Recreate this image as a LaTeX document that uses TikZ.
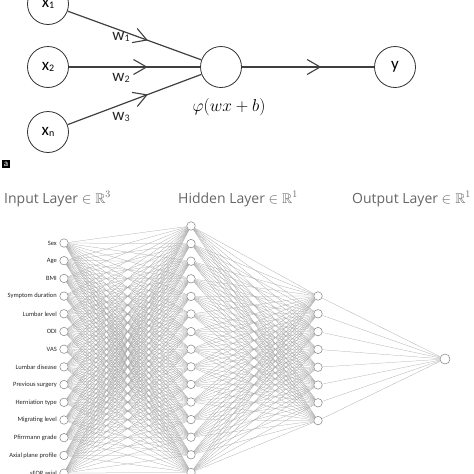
\documentclass[tikz,border=0pt]{standalone}
\usepackage{amsmath,amssymb}
\usepackage{fontspec}
\setsansfont{Carlito}
\newfontfamily\titlefont{Open Sans}
\usetikzlibrary{arrows.meta,positioning,decorations.markings}

\newcommand{\lowidx}[1]{\raisebox{-1.5pt}{\fontsize{10}{10}\selectfont #1}}

\begin{document}
\begin{tikzpicture}[x=1pt,y=-1pt,draw=black!75,>=Straight Barb]
	\tikzstyle{unit}=[circle,draw=black!80,line width=0.8pt,
	minimum size=41pt,
	inner sep=0pt,font=\sffamily\fontsize{17}{17}\selectfont
	]
	\tikzstyle{wire}=[line width=1.2pt,draw=black!75,postaction={decorate},
	decoration={markings,mark=at position 0.6 with {\arrow[line width=1.1pt]{Straight Barb[length=13pt,width=15pt]}}}]
	\tikzstyle{wlabel}=[font=\sffamily\fontsize{17}{17}\selectfont,text=black!85];
	\tikzstyle{title}=[anchor=base west,inner sep=0pt,font=\titlefont\fontsize{14}{14}\selectfont,text=black!60];
	\tikzstyle{cell}=[circle,draw=black!50,fill=white,line width=0.5pt,minimum size=8.5pt,inner sep=0pt];
	\tikzstyle{link}=[draw=black!35,line width=0.25pt];
	\tikzstyle{feat}=[anchor=east,inner sep=0pt,font=\sffamily\fontsize{6.5}{6.5}\selectfont,text=black!85];
\useasboundingbox (0,0) rectangle (474,474);
\clip (0,0) rectangle (474,474);

% single neuron
\node[unit](x1) at (48,4){x\lowidx{1}};
\node[unit](x2) at (48,67){x\lowidx{2}};
\node[unit](xn) at (48,132){x\lowidx{n}};
\node[unit](sum) at (221,67){};
\node[unit](y) at (395,67){y};

\draw[wire] (x1) -- (sum);
\draw[wire] (x2) -- (sum);
\draw[wire] (xn) -- (sum);
\draw[wire] (sum) -- (y);

\node[wlabel](w1) at (121,37){w\lowidx{1}};
\node[wlabel](w2) at (121,78){w\lowidx{2}};
\node[wlabel](w3) at (121,117){w\lowidx{3}};
\node(phi) at (229,107){\fontsize{16}{16}\selectfont $\varphi(wx+b)$};

\node[fill=black,text=white,inner sep=2pt,font=\sffamily\fontsize{9}{9}\selectfont](tag) at (6,164){a};

% network
\node[title](tin) at (4,203){Input Layer $\in\mathbb{R}^3$};
\node[title](thid) at (178,203){Hidden Layer $\in\mathbb{R}^1$};
\node[title](tout) at (352,203){Output Layer $\in\mathbb{R}^1$};

\foreach \i/\txt in {0/Sex,1/Age,2/BMI,3/Symptom duration,4/Lumbar level,5/ODI,6/VAS,
	7/Lumbar disease,8/Previous surgery,9/Herniation type,10/Migrating level,
	11/Pfirrmann grade,12/Axial plane profile,13/sFOR axial}{
	\node[cell](in\i) at (64,243+17.7*\i){};
	\node[feat] at (57,243+17.7*\i){\txt};
}
\foreach \j in {0,...,14}
	\node[cell](h\j) at (191,226+17.6*\j){};
\foreach \k in {0,...,7}
	\node[cell](g\k) at (318,296+17.8*\k){};
\node[cell,minimum size=10pt](out) at (445,359){};

\foreach \i in {0,...,13}
	\foreach \j in {0,...,14}
		\draw[link] (in\i) -- (h\j);
\foreach \j in {0,...,14}
	\foreach \k in {0,...,7}
		\draw[link] (h\j) -- (g\k);
\foreach \k in {0,...,7}
	\draw[link] (g\k) -- (out);

\end{tikzpicture}
\end{document}
